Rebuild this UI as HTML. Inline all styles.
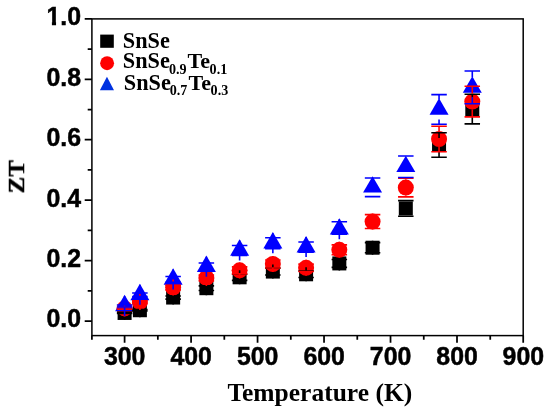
<!DOCTYPE html>
<html><head><meta charset="utf-8"><title>ZT vs Temperature</title>
<style>html,body{margin:0;padding:0;background:#fff}svg{display:block}</style>
</head><body>
<svg width="550" height="413" viewBox="0 0 550 413">
<defs><filter id="soft" x="0" y="0" width="550" height="413" filterUnits="userSpaceOnUse"><feGaussianBlur stdDeviation="0.4"/></filter></defs>
<rect width="550" height="413" fill="#fff"/>
<g filter="url(#soft)">
<g fill="#000"><rect x="117.60" y="305.95" width="14" height="14"/><rect x="132.89" y="303.23" width="14" height="14"/><rect x="166.13" y="290.55" width="14" height="14"/><rect x="199.37" y="281.19" width="14" height="14"/><rect x="232.61" y="270.31" width="14" height="14"/><rect x="265.85" y="264.58" width="14" height="14"/><rect x="299.09" y="267.29" width="14" height="14"/><rect x="332.33" y="256.42" width="14" height="14"/><rect x="365.57" y="240.72" width="14" height="14"/><rect x="398.81" y="201.46" width="14" height="14"/><rect x="432.05" y="138.04" width="14" height="14"/><rect x="465.29" y="102.10" width="14" height="14"/></g>
<g fill="#f00"><circle cx="124.60" cy="308.42" r="8"/><circle cx="139.89" cy="302.08" r="8"/><circle cx="173.13" cy="287.58" r="8"/><circle cx="206.37" cy="277.92" r="8"/><circle cx="239.61" cy="270.37" r="8"/><circle cx="272.85" cy="264.03" r="8"/><circle cx="306.09" cy="267.80" r="8"/><circle cx="339.33" cy="249.83" r="8"/><circle cx="372.57" cy="221.59" r="8"/><circle cx="405.81" cy="187.62" r="8"/><circle cx="439.05" cy="139.00" r="8"/><circle cx="472.29" cy="101.55" r="8"/></g>
<g fill="#00f"><path d="M115.10 311.30L134.10 311.30L124.60 294.85Z"/><path d="M130.39 300.13L149.39 300.13L139.89 283.68Z"/><path d="M163.63 284.73L182.63 284.73L173.13 268.28Z"/><path d="M196.87 272.04L215.87 272.04L206.37 255.59Z"/><path d="M230.11 255.74L249.11 255.74L239.61 239.29Z"/><path d="M263.35 248.49L282.35 248.49L272.85 232.04Z"/><path d="M296.59 252.41L315.59 252.41L306.09 235.96Z"/><path d="M329.83 234.60L348.83 234.60L339.33 218.15Z"/><path d="M363.07 192.62L382.07 192.62L372.57 176.17Z"/><path d="M396.31 172.08L415.31 172.08L405.81 155.63Z"/><path d="M429.55 114.70L448.55 114.70L439.05 98.25Z"/><path d="M462.79 92.66L481.79 92.66L472.29 76.21Z"/></g>
<path d="M124.60 316.40V319.95M139.89 310.93V317.23M173.13 295.58V295.93M173.13 299.18V304.53M206.37 285.89V285.94M206.37 290.44V295.19M239.61 270.34V273.89M239.61 280.34V284.34M272.85 264.59V267.99M272.85 274.99V278.59M306.09 267.31V271.06M306.09 277.51V281.31M339.33 257.85V259.45M339.33 267.40V270.45M372.57 240.72V242.62M372.57 252.82V254.72M405.81 200.62V201.47M405.81 215.47V216.32M439.05 132.78V138.03M439.05 152.03V157.33M472.29 94.29V97.34M472.29 116.89V123.89M116.85 312.42H132.35M116.85 313.48H132.35M132.14 309.51H147.64M132.14 310.95H147.64M165.38 295.94H180.88M165.38 299.15H180.88M198.62 285.92H214.12M198.62 290.45H214.12M231.86 274.29H247.36M231.86 280.34H247.36M265.10 268.15H280.60M265.10 275.00H280.60M298.34 271.06H313.84M298.34 277.53H313.84M331.58 259.43H347.08M331.58 267.42H347.08M364.82 242.62H380.32M364.82 252.81H380.32M398.06 200.62H413.56M398.06 216.30H413.56M431.30 132.76H446.80M431.30 157.32H446.80M464.54 94.30H480.04M464.54 123.90H480.04" stroke="#000" stroke-width="1.6" fill="none"/>
<path d="M124.60 305.00V307.00M124.60 316.00V316.40M139.89 294.08V296.63M139.89 304.83V310.08M173.13 279.58V282.33M173.13 289.88V295.58M206.37 269.89V270.49M206.37 280.89V285.89M239.61 262.39V266.84M239.61 273.89V278.39M272.85 256.04V260.09M272.85 267.99V272.04M306.09 259.81V264.11M306.09 271.51V275.81M339.33 241.85V244.90M339.33 254.80V257.85M372.57 213.62V214.67M372.57 228.52V229.62M405.81 178.32V179.62M405.81 195.62V196.92M439.05 126.28V130.98M439.05 146.98V151.73M472.29 86.24V93.54M472.29 109.54V116.89M116.85 307.57H132.35M116.85 309.27H132.35M132.14 300.79H147.64M132.14 303.37H147.64M165.38 285.28H180.88M165.38 289.89H180.88M198.62 274.94H214.12M198.62 280.90H214.12M231.86 266.86H247.36M231.86 273.88H247.36M265.10 260.07H280.60M265.10 267.98H280.60M298.34 264.11H313.84M298.34 271.49H313.84M331.58 244.89H347.08M331.58 254.78H347.08M364.82 214.67H380.32M364.82 228.52H380.32M398.06 178.32H413.56M398.06 196.92H413.56M431.30 126.29H446.80M431.30 151.70H446.80M464.54 86.22H480.04M464.54 116.88H480.04" stroke="#f00" stroke-width="1.6" fill="none"/>
<path d="M124.60 296.00V305.00M124.60 307.00V316.00M139.89 284.83V293.03M139.89 296.63V304.83M173.13 269.43V276.53M173.13 282.33V289.43M206.37 256.74V262.99M206.37 270.49V276.74M239.61 240.44V245.54M239.61 255.34V260.44M272.85 233.19V237.79M272.85 248.59V253.19M306.09 237.11V241.96M306.09 252.26V257.11M339.33 219.30V221.80M339.33 234.30V239.30M372.57 177.32V178.02M372.57 196.62V197.32M405.81 156.02V156.77M405.81 176.77V177.52M439.05 94.63V99.43M439.05 119.43V124.18M472.29 71.04V77.34M472.29 97.34V103.69M116.85 304.99H132.35M116.85 307.02H132.35M132.14 293.03H147.64M132.14 296.63H147.64M165.38 276.55H180.88M165.38 282.30H180.88M198.62 262.98H214.12M198.62 270.51H214.12M231.86 245.53H247.36M231.86 255.34H247.36M265.10 237.78H280.60M265.10 248.60H280.60M298.34 241.98H313.84M298.34 252.25H313.84M331.58 221.80H347.08M331.58 234.30H347.08M364.82 178.00H380.32M364.82 196.64H380.32M398.06 156.02H413.56M398.06 177.54H413.56M431.30 94.63H446.80M431.30 124.18H446.80M464.54 71.04H480.04M464.54 103.68H480.04" stroke="#00f" stroke-width="1.6" fill="none"/>
<rect x="91.9" y="18.9" width="431.30000000000007" height="316.70000000000005" fill="none" stroke="#000" stroke-width="1.5"/>
<path d="M91.9 321.00h-7.2M91.9 290.79h-4.2M91.9 260.58h-7.2M91.9 230.37h-4.2M91.9 200.16h-7.2M91.9 169.95h-4.2M91.9 139.74h-7.2M91.9 109.53h-4.2M91.9 79.32h-7.2M91.9 49.11h-4.2M91.9 18.90h-7.2M91.90 335.6v4.2M124.60 335.6v7.2M157.84 335.6v4.2M191.08 335.6v7.2M224.32 335.6v4.2M257.56 335.6v7.2M290.80 335.6v4.2M324.04 335.6v7.2M357.28 335.6v4.2M390.52 335.6v7.2M423.76 335.6v4.2M457.00 335.6v7.2M490.24 335.6v4.2M523.20 335.6v7.2" stroke="#000" stroke-width="1.75" fill="none"/>
<g font-family="'Liberation Sans', sans-serif" font-weight="bold" font-size="26" fill="#000" stroke="#000" stroke-width="0.5">
<text transform="translate(81.0 327.40) scale(0.957 1)" text-anchor="end">0.0</text>
<text transform="translate(81.0 266.98) scale(0.957 1)" text-anchor="end">0.2</text>
<text transform="translate(81.0 206.56) scale(0.957 1)" text-anchor="end">0.4</text>
<text transform="translate(81.0 146.14) scale(0.957 1)" text-anchor="end">0.6</text>
<text transform="translate(81.0 85.72) scale(0.957 1)" text-anchor="end">0.8</text>
<text transform="translate(81.0 25.30) scale(0.957 1)" text-anchor="end">1.0</text>
<text transform="translate(124.70 365.2) scale(0.957 1)" text-anchor="middle">300</text>
<text transform="translate(191.18 365.2) scale(0.957 1)" text-anchor="middle">400</text>
<text transform="translate(257.66 365.2) scale(0.957 1)" text-anchor="middle">500</text>
<text transform="translate(324.14 365.2) scale(0.957 1)" text-anchor="middle">600</text>
<text transform="translate(390.62 365.2) scale(0.957 1)" text-anchor="middle">700</text>
<text transform="translate(457.10 365.2) scale(0.957 1)" text-anchor="middle">800</text>
<text transform="translate(523.30 365.2) scale(0.957 1)" text-anchor="middle">900</text>
</g>
<rect x="46.6" y="21.4" width="5.3" height="5.2" fill="#fff"/><rect x="56.05" y="21.4" width="4.6" height="5.2" fill="#fff"/>
<g font-family="'Liberation Serif', serif" font-weight="bold" fill="#000">
<text transform="translate(319.8 401.2) scale(1.02 1)" text-anchor="middle" font-size="25">Temperature (K)</text>
<text transform="translate(24.0 176.8) rotate(-90) scale(1.04 1)" text-anchor="middle" font-size="24" stroke="#000" stroke-width="0.35">ZT</text>
<rect x="100.2" y="34.6" width="13.6" height="13.2"/>
<circle cx="107.1" cy="63.2" r="6.95" fill="#f00"/>
<path d="M99.9 90.3L114 90.3L106.95 76.8Z" fill="#0030e0"/>
<text font-size="22"><tspan x="122.8" y="47.7" font-size="22.25">SnSe</tspan></text>
<text font-size="22"><tspan x="122.8" y="68.3" font-size="22.25">SnSe</tspan><tspan x="169.0" y="73.8" font-size="14.1">0.9</tspan><tspan x="187.6" y="68.3">Te</tspan><tspan x="209.6" y="73.8" font-size="14.1">0.1</tspan></text>
<text font-size="22"><tspan x="123.8" y="89.5" font-size="22.25">SnSe</tspan><tspan x="169.8" y="95.0" font-size="14.1">0.7</tspan><tspan x="188.6" y="89.5">Te</tspan><tspan x="210.6" y="95.0" font-size="14.1">0.3</tspan></text>
</g>
</g>
</svg>
</body></html>
